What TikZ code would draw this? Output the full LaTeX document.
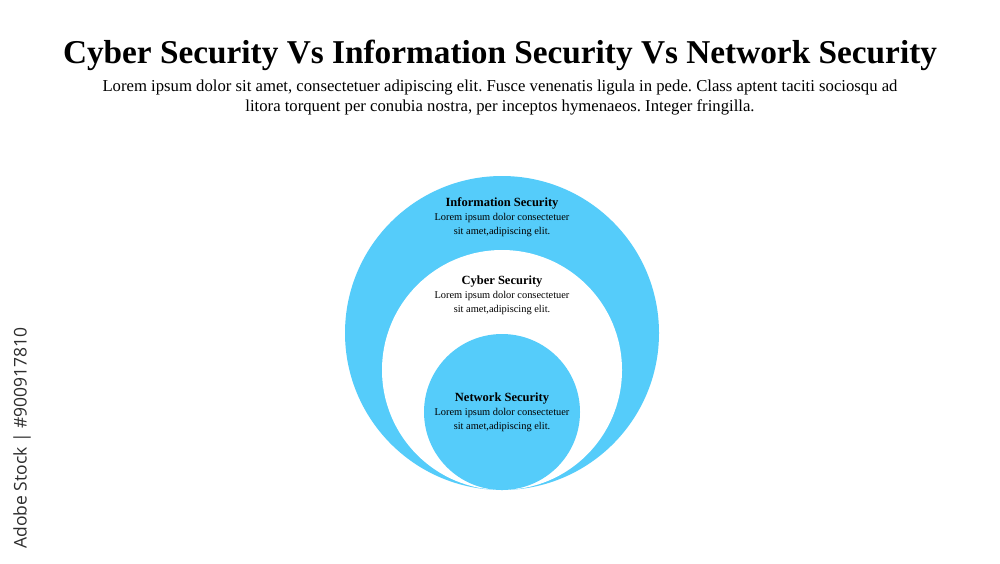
\documentclass[tikz,border=0pt]{standalone}
\usepackage{fontspec}
\setmainfont{Liberation Serif}
\newfontfamily\wmfont{Open Sans}
\definecolor{ringblue}{RGB}{85,204,250}
\definecolor{wmgray}{RGB}{45,45,45}
\frenchspacing
\begin{document}
\begin{tikzpicture}[x=1pt,y=-1pt,
  heading/.style={font=\bfseries\fontsize{12.5}{14}\selectfont, inner sep=0pt},
  body/.style={font=\fontsize{10.4}{14}\selectfont, align=center, inner sep=0pt}]
\useasboundingbox (0,0) rectangle (1000,563);
\fill[white] (0,0) rectangle (1000,563);
% circles
\node[circle, fill=ringblue, minimum size=314pt, inner sep=0pt] (outer) at (502,333) {};
\node[circle, fill=white, minimum size=240pt, inner sep=0pt] (middle) at (502,370) {};
\node[circle, fill=ringblue, minimum size=156pt, inner sep=0pt] (inner) at (502,412) {};
% title
\node[font=\bfseries\fontsize{33.3}{38}\selectfont, inner sep=0pt, anchor=base] (title) at (500,63) {Cyber Security Vs Information Security Vs Network Security};
\node[font=\fontsize{16.7}{19.5}\selectfont, align=center, inner sep=0pt, anchor=base] (sub) at (500,111) {Lorem ipsum dolor sit amet, consectetuer adipiscing elit. Fusce venenatis ligula in pede. Class aptent taciti sociosqu ad\\litora torquent per conubia nostra, per inceptos hymenaeos. Integer fringilla.};
% labels
\node[heading] (h1) at (502,203) {Information Security};
\node[body] (b1) at (502,225) {Lorem ipsum dolor consectetuer\\sit amet,adipiscing elit.};
\node[heading] (h2) at (502,282) {Cyber Security};
\node[body] (b2) at (502,303) {Lorem ipsum dolor consectetuer\\sit amet,adipiscing elit.};
\node[heading] (h3) at (502,399) {Network Security};
\node[body] (b3) at (502,420) {Lorem ipsum dolor consectetuer\\sit amet,adipiscing elit.};
% watermark
\node[rotate=90, font=\wmfont\fontsize{17.5}{20}\selectfont, text=wmgray, inner sep=0pt] (wm) at (22,438) {Adobe Stock | \#900917810};
\end{tikzpicture}
\end{document}
